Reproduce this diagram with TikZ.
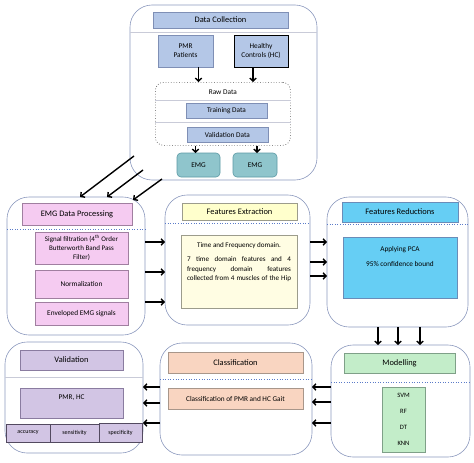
\documentclass[tikz,border=0pt]{standalone}
\usepackage{fontspec}
\setmainfont{Carlito}
\usepackage{tikz}
\usetikzlibrary{positioning}
\usetikzlibrary{arrows.meta}
\definecolor{panelline}{HTML}{8C99BE}
\definecolor{sepblue}{HTML}{5B7BC8}
\definecolor{sepgrey}{HTML}{C9CBD8}
\definecolor{dcblue}{HTML}{B4C7E7}
\definecolor{dcline}{HTML}{7F8FB5}
\definecolor{emgteal}{HTML}{8FC5CC}
\definecolor{emgline}{HTML}{5C9AA5}
\definecolor{procpink}{HTML}{F5CBF1}
\definecolor{procline}{HTML}{A07FA0}
\definecolor{extyellow}{HTML}{FFFFCC}
\definecolor{extpale}{HTML}{FFFDE3}
\definecolor{extline}{HTML}{9C9C8C}
\definecolor{redblue}{HTML}{66CEF4}
\definecolor{redline}{HTML}{6A8CB8}
\definecolor{modgreen}{HTML}{C3EDC9}
\definecolor{modline}{HTML}{7FA088}
\definecolor{clspeach}{HTML}{F9D5C1}
\definecolor{clsline}{HTML}{A8968A}
\definecolor{valpurple}{HTML}{D2C5E4}
\definecolor{valline}{HTML}{8A7CA0}
\newcommand{\myfont}{\fontsize{8.4}{10}\selectfont}
\newcommand{\mysmall}{\fontsize{7.3}{8.8}\selectfont}
\newcommand{\mytiny}{\fontsize{6}{7}\selectfont}
\tikzset{
  mypanel/.style={
    draw=panelline,
    line width=0.6pt,
    rounded corners=22pt,
    fill=white,
    inner sep=0pt,
    outer sep=0pt,
    anchor=north west,
  },
  mybox/.style={
    draw,
    shape=rectangle,
    line width=0.6pt,
    inner sep=1pt,
    outer sep=0pt,
    align=center,
    anchor=north west,
    font=\mysmall
  },
  myheader/.style={
    mybox,
    font=\myfont
  },
  myarrow/.style={
    draw=black,
    line width=1.4pt,
    -{Straight Barb[length=3pt,width=6.5pt]},
  },
  mysep/.style={draw=sepblue, dotted, line width=0.6pt},
  mygrey/.style={draw=sepgrey, line width=0.6pt},
  dcbox/.style={draw=dcline, fill=dcblue},
  emgbox/.style={draw=emgline, fill=emgteal, rounded corners=4pt},
  procbox/.style={draw=procline, fill=procpink},
  extbox/.style={draw=extline, fill=extyellow},
  redbox/.style={draw=redline, fill=redblue},
  modbox/.style={draw=modline, fill=modgreen},
  clsbox/.style={draw=clsline, fill=clspeach},
  valbox/.style={draw=valline, fill=valpurple}
}

\begin{document}
\begin{tikzpicture}[x=1pt, y=-1pt]
    \useasboundingbox (0,0) rectangle (474,463);

    % data collection
    \node[mypanel, minimum width=187pt, minimum height=175pt] (dcol) at (130,5) {};
    \draw[mygrey] (dcol.west |- 0,32) -- (dcol.east |- 0,32);
    \node[myheader, dcbox, minimum width=135pt, minimum height=16pt] (dchead) at (153,12) {Data Collection};
    \node[mybox, dcbox, minimum width=55pt, minimum height=32pt] (pmr) at (158,35) {PMR\\Patients};
    \node[mybox, dcbox, draw=black, line width=1pt, minimum width=54pt, minimum height=32pt] (hc) at (234,35) {Healthy\\Controls (HC)};
    \node[draw=black!70, dotted, line width=0.7pt, rounded corners=8pt, minimum width=135pt, minimum height=63pt, inner sep=0pt, anchor=north west] (raw) at (155,82) {};
    \node[font=\mysmall] (rawlbl) at (raw.north |- 0,92) {Raw Data};
    \draw[mygrey] (raw.west |- 0,100) -- (raw.east |- 0,100);
    \draw[mygrey] (raw.west |- 0,122) -- (raw.east |- 0,122);
    \node[mybox, dcbox, minimum width=81pt, minimum height=15pt] (train) at (186,103) {Training Data};
    \node[mybox, dcbox, minimum width=81pt, minimum height=15pt] (valid) at (187,127) {Validation Data};
    \node[mybox, emgbox, minimum width=43pt, minimum height=24pt] (emga) at (177,153) {EMG};
    \node[mybox, emgbox, minimum width=44pt, minimum height=24pt] (emgb) at (233,153) {EMG};

    \draw[myarrow] ([xshift=13pt]pmr.south) -- ([xshift=13pt]pmr.south |- raw.north);
    \draw[myarrow] ([xshift=-8pt]hc.south) -- ([xshift=-8pt]hc.south |- raw.north);
    \draw[myarrow] ([xshift=-3pt]raw.south -| emga) -- ([xshift=-3pt]emga.north);
    \draw[myarrow] ([xshift=2pt]raw.south -| emgb) -- ([xshift=2pt]emgb.north);

    % emg data processing
    \node[mypanel, minimum width=138pt, minimum height=138pt] (emgp) at (7,197) {};
    \draw[mysep] (emgp.west |- 0,229) -- (emgp.east |- 0,229);
    \node[myheader, procbox, minimum width=110pt, minimum height=22pt] (prochead) at (22,203) {EMG Data Processing};
    \node[mybox, procbox, font=\fontsize{7}{8.8}\selectfont, minimum width=93pt, minimum height=32pt] (sig) at (35,232) {Signal filtration (4\textsuperscript{th} Order\\Butterworth Band Pass\\Filter)};
    \node[mybox, procbox, minimum width=93pt, minimum height=28pt] (norm) at (35,270) {Normalization};
    \node[mybox, procbox, minimum width=93pt, minimum height=23pt] (env) at (35,302) {Enveloped EMG signals};

    % features extraction
    \node[mypanel, minimum width=145pt, minimum height=130pt] (fext) at (165,195) {};
    \draw[mysep] (fext.west |- 0,223) -- (fext.east |- 0,223);
    \node[myheader, extbox, minimum width=115pt, minimum height=17pt] (exthead) at (182,203) {Features Extraction};
    \node[mybox, extbox, fill=extpale, minimum width=116pt, minimum height=73pt] (extbody) at (181,235) {};
    \node[font=\fontsize{7.1}{9.5}\selectfont, align=center, anchor=north] (exttxt) at ([yshift=-4pt]extbody.north)
      {Time and Frequency domain.\\[5pt]
       \makebox[104pt][s]{7 time domain features and 4}\\
       \makebox[104pt][s]{frequency domain features}\\
       \makebox[104pt][s]{collected from 4 muscles of the Hip}};

    % features reductions
    \node[mypanel, minimum width=141pt, minimum height=130pt] (fred) at (327,197) {};
    \draw[mysep] (fred.west |- 0,224) -- (fred.east |- 0,224);
    \node[myheader, redbox, minimum width=116pt, minimum height=20pt] (redhead) at (342,202) {Features Reductions};
    \node[mybox, redbox, minimum width=114pt, minimum height=61pt] (pca) at (343,237) {};
    \node[font=\mysmall, align=center, anchor=north] (pcatxt) at ([yshift=-6pt]pca.north) {Applying PCA\\[6pt]95\% confidence bound};

    % modelling
    \node[mypanel, minimum width=139pt, minimum height=112pt] (model) at (331,345) {};
    \draw[mysep] (model.west |- 0,382) -- (model.east |- 0,382);
    \node[myheader, modbox, minimum width=111pt, minimum height=20pt] (modhead) at (344,353) {Modelling};
    \node[mybox, modbox, font=\fontsize{6.6}{8}\selectfont, minimum width=43pt, minimum height=65pt] (algos) at (382,387) {SVM\\[8pt]RF\\[8pt]DT\\[8pt]KNN};

    % classification
    \node[mypanel, minimum width=152pt, minimum height=112pt] (cls) at (160,343) {};
    \draw[mysep] (cls.west |- 0,379) -- (cls.east |- 0,379);
    \node[myheader, clsbox, minimum width=135pt, minimum height=21pt] (clshead) at (168,352) {Classification};
    \node[mybox, clsbox, minimum width=135pt, minimum height=21pt] (gait) at (168,388) {Classification of PMR and HC Gait};

    % validation
    \node[mypanel, minimum width=138pt, minimum height=111pt] (vali) at (5,342) {};
    \draw[mygrey] (vali.west |- 0,377) -- (vali.east |- 0,377);
    \node[myheader, valbox, minimum width=103pt, minimum height=20pt] (valhead) at (20,350) {Validation};
    \node[mybox, valbox, minimum width=103pt, minimum height=30pt, label={[font=\mysmall, anchor=north, yshift=-3pt]north:{PMR, HC}}] (pmrhc) at (20,388) {};
    \node[mybox, valbox, draw=valline!60!black, font=\mytiny, minimum width=44pt, minimum height=18pt] (acc) at (6,424) {accuracy};
    \node[mybox, valbox, draw=valline!60!black, font=\mytiny, minimum width=49pt, minimum height=18pt] (sens) [right=0pt of acc] {sensitivity};
    \node[mybox, valbox, draw=valline!60!black, font=\mytiny, minimum width=43pt, minimum height=19pt, anchor=south west] (spec) at (sens.south east) {specificity};

    % connectors between the stages
    \draw[myarrow] ([shift={(4,-24)}]dcol.south west) -- ([xshift=73pt]emgp.north west);
    \draw[myarrow] ([shift={(13,-10)}]dcol.south west) -- ([xshift=100pt]emgp.north west);
    \draw[myarrow] ([shift={(32,-1)}]dcol.south west) -- ([shift={(126,3)}]emgp.north west);
    \foreach \y in {242,272,302}
      \draw[myarrow] (emgp.east |- 0,\y) -- (fext.west |- 0,\y);
    \foreach \y in {242,262,276}
      \draw[myarrow] (fext.east |- 0,\y) -- (fred.west |- 0,\y);
    \foreach \x in {378,398,420}
      \draw[myarrow] (fred.south -| \x,0) -- (model.north -| \x,0);
    \foreach \y in {387,402,423}
      \draw[myarrow] (model.west |- 0,\y) -- (cls.east |- 0,\y);
    \foreach \y in {387,403,423}
      \draw[myarrow] (cls.west |- 0,\y) -- (vali.east |- 0,\y);
  \end{tikzpicture}
\end{document}
